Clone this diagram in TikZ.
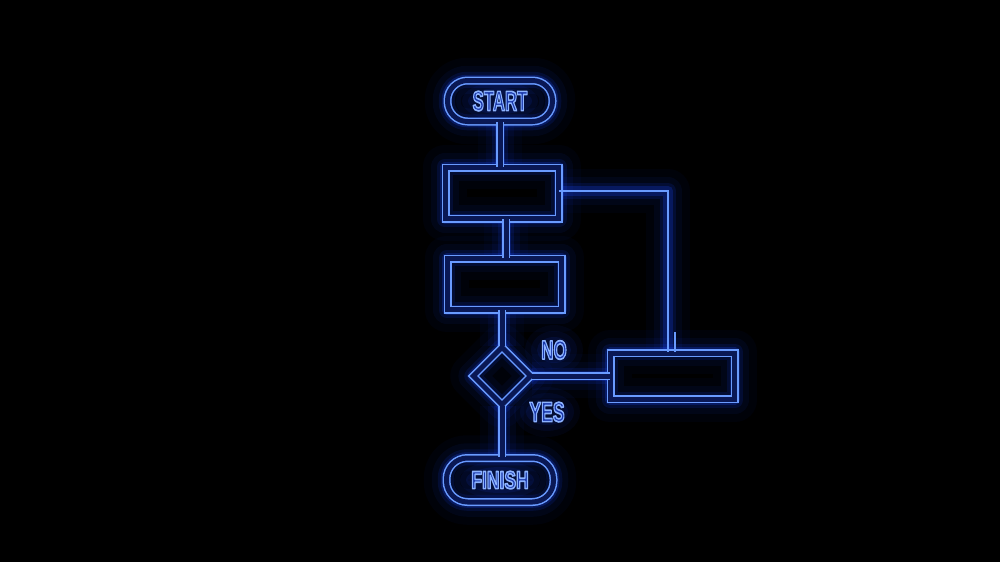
\documentclass[tikz,border=0pt]{standalone}
\usepackage{fontspec}
\setmainfont{Liberation Sans}
\usepackage{graphicx}
\usetikzlibrary{shapes.geometric}
\definecolor{neon}{RGB}{105,155,255}
\definecolor{glowc}{RGB}{25,70,255}
\definecolor{tubecore}{RGB}{10,24,85}
\definecolor{textin}{RGB}{25,55,170}
\pgfdeclarelayer{bg}
\pgfsetlayers{bg,main}
\newcommand\neontxt[3]{\scalebox{#2}[1]{\fontsize{#1}{#1}\selectfont\bfseries{\color{textin}\special{pdf:literal direct 0.55 0.7 1 RG 1.7 w 1 j 2 Tr}#3\special{pdf:literal direct 0 Tr}}}}
\tikzset{
  tube/.style={draw=neon, line width=1.5pt, double=tubecore, double distance=5pt},
  term/.style={tube, rectangle, rounded corners=20pt, inner sep=0pt},
  procbox/.style={tube, rectangle, inner sep=0pt},
  decbox/.style={tube, diamond, inner sep=0pt, minimum width=58pt, minimum height=58pt},
  lbl/.style={inner sep=0pt},
  wire/.style={draw=neon, line width=1.5pt},
  glowA/.style={draw=glowc, line width=44pt, opacity=0.035, line join=round},
  glowB/.style={draw=glowc, line width=28pt, opacity=0.06, line join=round},
  glowC/.style={draw=glowc, line width=16pt, opacity=0.12, line join=round},
  glowD/.style={draw=glowc, line width=10pt, opacity=0.22, line join=round},
  halo/.style={fill=glowc, draw=none, ellipse, inner sep=0pt},
}
\newcommand\glowall[1]{%
  \draw[#1, rounded corners=20pt] (start.north west) rectangle (start.south east);
  \draw[#1, rounded corners=21pt] (finish.north west) rectangle (finish.south east);
  \draw[#1] (box1.north west) rectangle (box1.south east);
  \draw[#1] (box2.north west) rectangle (box2.south east);
  \draw[#1] (box3.north west) rectangle (box3.south east);
  \draw[#1] (dec.north) -- (dec.east) -- (dec.south) -- (dec.west) -- cycle;
  \draw[#1] (start.south) -- (start.south |- box1.north);
  \draw[#1] (c1) -- (c1 |- box2.north);
  \draw[#1] (box2.south -| dec.north) -- (dec.north);
  \draw[#1] (dec.south) -- (dec.south |- finish.north);
  \draw[#1] (dec.east) -- (dec.east -| box3.west);
  \draw[#1] (box1.east |- 0,191) -| (668,0 |- box3.north);
}
\newcommand\haloat[3]{%
  \node[halo, opacity=0.05, minimum width=#2+24pt, minimum height=#3+24pt] at (#1) {};
  \node[halo, opacity=0.07, minimum width=#2+12pt, minimum height=#3+12pt] at (#1) {};
  \node[halo, opacity=0.10, minimum width=#2, minimum height=#3] at (#1) {};
}
\begin{document}
\begin{tikzpicture}[x=1pt,y=-1pt]
\begin{pgfonlayer}{bg}
  \fill[black] (0,0) rectangle (1000,562);
\end{pgfonlayer}
\useasboundingbox (0,0) rectangle (1000,562);

\node[term, minimum width=105pt, minimum height=41pt] (start) at (500,101) {\neontxt{28}{0.6}{START}};
\node[procbox, minimum width=113pt, minimum height=51pt] (box1) at (502,193) {};
\node[procbox, minimum width=114pt, minimum height=51pt] (box2) at (504.5,284) {};
\node[decbox] (dec) at (502,376) {};
\node[procbox, minimum width=124pt, minimum height=46pt] (box3) at (672.5,376) {};
\node[term, rounded corners=21pt, minimum width=107pt, minimum height=44pt] (finish) at (500,480) {\neontxt{25}{0.7}{FINISH}};
\node[lbl] (no) at (554,350) {\neontxt{26.5}{0.64}{NO}};
\node[lbl] (yes) at (547,412) {\neontxt{28}{0.63}{YES}};
\coordinate (c1) at ([xshift=4pt]box1.south);

\begin{pgfonlayer}{bg}
  \glowall{glowA}
  \glowall{glowB}
  \glowall{glowC}
  \glowall{glowD}
  \haloat{no}{34pt}{26pt}
  \haloat{yes}{42pt}{26pt}
  \haloat{start}{64pt}{26pt}
  \haloat{finish}{68pt}{26pt}
\end{pgfonlayer}

\draw[tube] (start.south) -- (start.south |- box1.north);
\draw[tube] (c1) -- (c1 |- box2.north);
\draw[tube] (box2.south -| dec.north) -- (dec.north);
\draw[tube] (dec.south) -- (dec.south |- finish.north);
\draw[tube] (dec.east) -- (dec.east -| box3.west);
\draw[wire] (box1.east |- 0,191) -| (668,0 |- box3.north);
\draw[wire] (675,332) -- (675,0 |- box3.north);
\end{tikzpicture}
\end{document}
